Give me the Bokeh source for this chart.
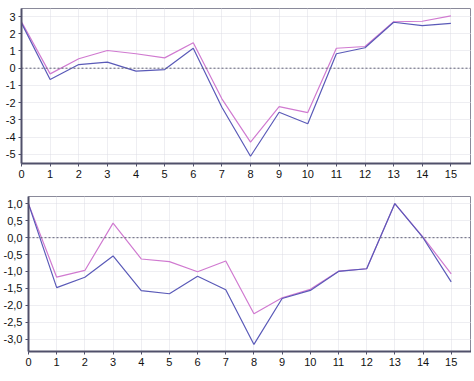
from bokeh.plotting import figure
from bokeh.models import Span, FixedTicker, CustomJSTickFormatter, Range1d
from bokeh.embed import file_html
from bokeh.resources import INLINE

x = list(range(16))
top_pink = [2.70, -0.33, 0.55, 1.03, 0.84, 0.60, 1.48, -1.78, -4.30, -2.23, -2.58, 1.16, 1.26, 2.70, 2.73, 3.04]
top_blue = [2.62, -0.66, 0.21, 0.35, -0.17, -0.08, 1.16, -2.27, -5.12, -2.56, -3.23, 0.84, 1.19, 2.67, 2.48, 2.60]
bot_pink = [1.00, -1.17, -0.97, 0.43, -0.63, -0.71, -1.01, -0.69, -2.25, -1.78, -1.53, -0.99, -0.92, 1.01, 0.02, -1.07]
bot_blue = [1.00, -1.48, -1.17, -0.54, -1.57, -1.66, -1.14, -1.54, -3.16, -1.80, -1.56, -1.00, -0.92, 1.01, 0.00, -1.31]
top_yticks = [3, 2, 1, 0, -1, -2, -3, -4, -5]
bot_yticks = [1.0, 0.5, 0.0, -0.5, -1.0, -1.5, -2.0, -2.5, -3.0]

PINK = "#d07ad0"
BLUE = "#5a5ab8"


def make(left, yr, yticks, pink, blue, fmt):
    p = figure(width=471, height=188, output_backend="svg", toolbar_location=None,
               x_range=Range1d(0, 15.72), y_range=Range1d(*yr),
               min_border_left=left, min_border_right=0, min_border_top=8, min_border_bottom=25)
    p.background_fill_color = "white"
    p.border_fill_color = "white"
    p.outline_line_color = "#8a8a9a"
    p.outline_line_width = 1
    for ax in (p.xaxis[0], p.yaxis[0]):
        ax.axis_line_color = "#50506a"
        ax.axis_line_width = 2
        ax.major_tick_line_color = "#50506a"
        ax.major_tick_out = 3
        ax.major_tick_in = 0
        ax.minor_tick_line_color = None
        ax.major_label_text_font = "Liberation Sans"
        ax.major_label_text_font_size = "11px"
        ax.major_label_text_color = "#111111"
        ax.major_label_standoff = 3
    p.xaxis.ticker = FixedTicker(ticks=x)
    p.yaxis.ticker = FixedTicker(ticks=yticks)
    p.yaxis.formatter = CustomJSTickFormatter(code=fmt)
    p.xgrid.ticker = FixedTicker(ticks=x)
    p.ygrid.ticker = FixedTicker(ticks=yticks)
    for g in (p.xgrid[0], p.ygrid[0]):
        g.grid_line_color = "#dcdce4"
        g.grid_line_dash = "1 1"
        g.grid_line_width = 1
    p.add_layout(Span(location=0, dimension="width", line_color="#606078",
                      line_dash="2 2", line_width=1))
    p.line(x, pink, line_color=PINK, line_width=1.2)
    p.line(x, blue, line_color=BLUE, line_width=1.2)
    return p


p1 = make(21, (-5.54, 3.47), top_yticks, top_pink, top_blue,
          "return String(Math.round(tick));")
p2 = make(28, (-3.37, 1.22), bot_yticks, bot_pink, bot_blue,
          "return tick.toFixed(1).replace('.', ',');")

open("out.html", "w").write(file_html([p1, p2], INLINE))
